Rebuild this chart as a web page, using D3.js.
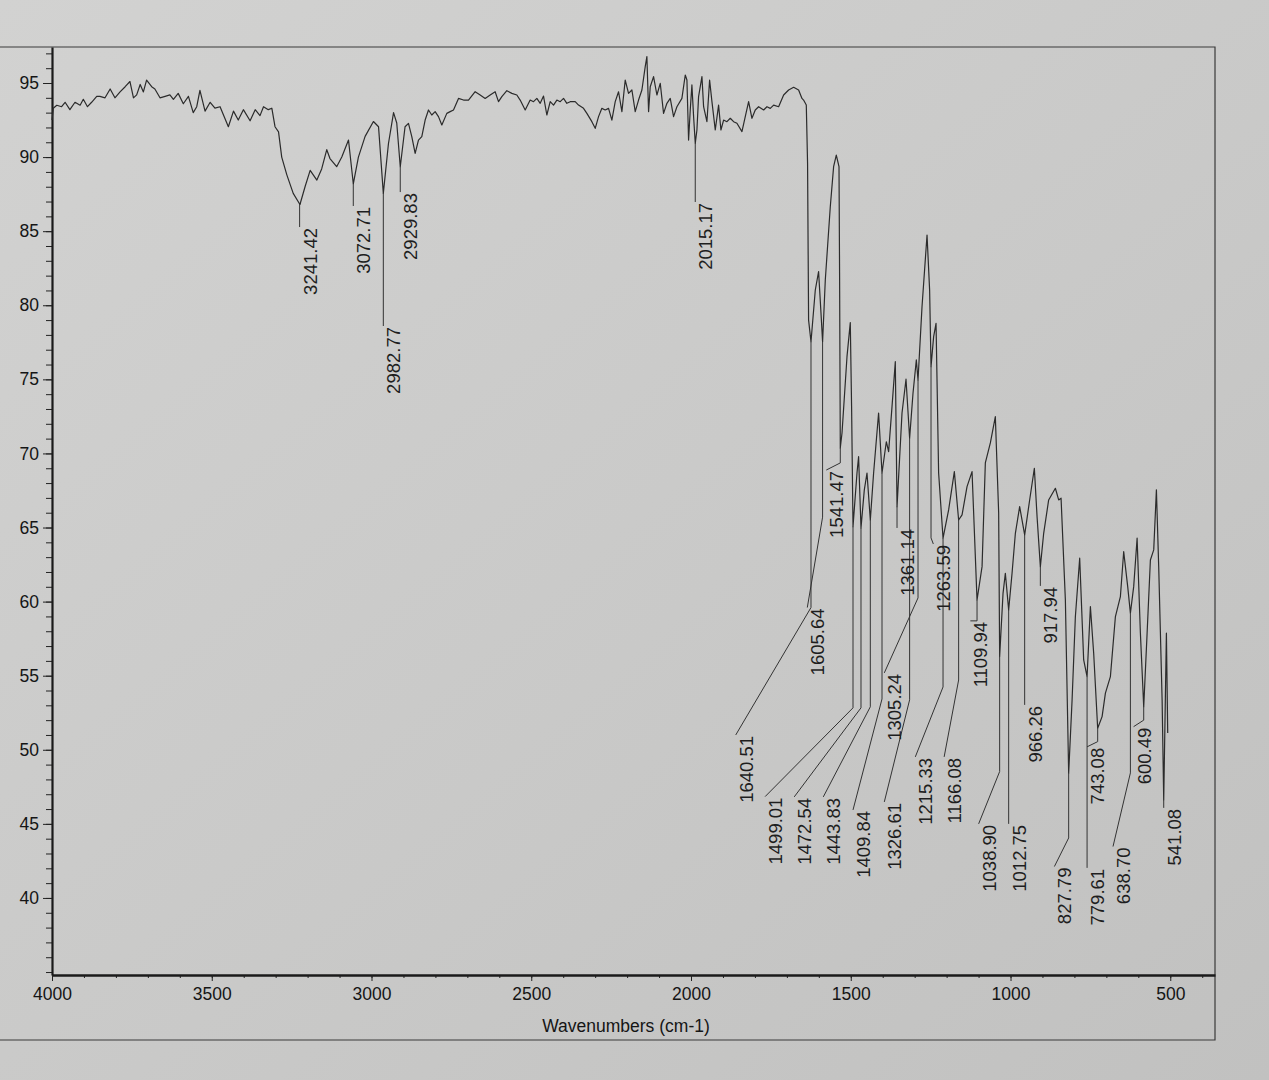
<!DOCTYPE html>
<html>
<head>
<meta charset="utf-8">
<script src="https://cdn.jsdelivr.net/npm/d3@7"></script>
<style>
  html, body { margin: 0; padding: 0; background: #c9c9c8; }
  svg { display: block; }
  text { font-family: "Liberation Sans", Arial, sans-serif; }
</style>
</head>
<body>
<div id="chart"></div>
<script>
// IR spectrum (wavenumber in cm-1, %T)
const wavenumbers = [
  4000, 3996, 3985, 3970, 3959, 3944, 3928, 3912, 3902, 3889, 3876, 3860, 3850, 3834, 3818, 3803,
  3787, 3771, 3756, 3745, 3735, 3724, 3714, 3704, 3688, 3678, 3662, 3646, 3631, 3620, 3605, 3589,
  3573, 3558, 3547, 3537, 3521, 3505, 3490, 3474, 3448, 3432, 3417, 3401, 3380, 3364, 3349, 3338,
  3323, 3312, 3302, 3291, 3281, 3265, 3245, 3224, 3208, 3192, 3171, 3156, 3140, 3130, 3109, 3093,
  3072, 3057, 3041, 3020, 2994, 2978, 2963, 2947, 2931, 2921, 2910, 2895,
  2884.3, 2873.9, 2863.4, 2853.0, 2842.6, 2832.1, 2821.7, 2811.3, 2800.8, 2790.4, 2779.9, 2764.3,
  2753.8, 2743.4, 2727.7, 2712.1, 2696.4, 2675.6, 2659.9, 2644.3, 2628.6, 2613.0, 2602.5, 2592.1,
  2576.4, 2560.8, 2545.1, 2534.7, 2519.0, 2503.4, 2492.9, 2482.5, 2472.0, 2461.6, 2451.2, 2440.7,
  2430.3, 2419.9, 2409.4, 2399.0, 2388.6, 2378.1, 2362.5, 2352.0, 2336.4, 2325.9, 2310.3, 2299.8,
  2289.4, 2279.0, 2268.5, 2258.1, 2247.7, 2237.2, 2226.8, 2216.3, 2205.9, 2195.5, 2185.0, 2174.6,
  2164.2, 2153.7, 2143.3, 2138.1, 2132.8, 2127.6, 2117.2, 2106.7, 2096.3, 2085.9, 2075.4, 2065.0,
  2054.6, 2044.1, 2028.5, 2018.0, 2012.8, 2007.6, 2002.4, 1997.2, 1991.9, 1986.7, 1981.5, 1976.3,
  1965.8, 1960.6, 1950.2, 1941.8, 1934.5, 1924.1, 1913.7, 1906.4, 1898.0, 1887.6, 1877.1, 1866.7,
  1856.3, 1840.6, 1830.2, 1819.7, 1809.3, 1798.9, 1788.4, 1772.7, 1762.3, 1751.9, 1741.4, 1725.8,
  1710.1, 1694.5, 1678.8, 1663.2, 1652.7, 1647.7, 1639.2,
  1635.2, 1632.0, 1624.5, 1611.0, 1600.7, 1593.2, 1588.2, 1579.7, 1564.1, 1553.7, 1545.3, 1536.8,
  1535.0, 1532.8, 1527.4, 1511.8, 1501.5, 1497.4, 1493.0, 1480.5, 1475.5, 1468.0, 1457.6, 1449.2,
  1438.8, 1428.5, 1412.9, 1402.2, 1388.7, 1381.5, 1370.9, 1360.6, 1355.2, 1339.6, 1327.1, 1315.8,
  1305.2, 1294.8, 1289.5, 1277.0, 1261.3, 1253.2, 1248.8, 1240.6, 1233.1, 1225.0, 1211.2, 1193.7,
  1175.8, 1162.4, 1151.7, 1136.1, 1120.4, 1104.8, 1089.1, 1078.8, 1063.1, 1047.5, 1037.1, 1034.0,
  1023.4, 1016.2, 1005.8, 995.2, 984.8, 971.4, 955.7, 940.1, 925.4, 916.9, 906.6, 896.2,
  880.6, 859.6, 849.3, 841.8, 828.3, 818.0, 807.3, 797.0, 783.5, 771.0, 760.4, 750.0,
  739.7, 727.2, 713.4, 703.0, 687.4, 671.7, 656.1, 645.8, 633.2, 624.8, 614.5, 603.8,
  593.5, 583.1, 572.5, 562.2, 551.8, 543.4, 536.2, 525.5, 520.5, 512.1, 508.0
];

const transmittance = [
  92.5, 93.3, 93.5, 93.4, 93.7, 93.2, 93.7, 93.5, 93.9, 93.4, 93.7, 94.1, 94.1, 94.0, 94.6, 94.0,
  94.4, 94.75, 95.1, 94.0, 94.2, 94.9, 94.4, 95.2, 94.75, 94.6, 94.0, 94.1, 94.2, 93.9, 94.3, 93.6,
  94.1, 93.0, 93.4, 94.5, 93.1, 93.7, 93.3, 93.4, 92.05, 93.1, 92.5, 93.2, 92.45, 93.2, 92.8, 93.4,
  93.2, 93.3, 92.05, 91.7, 90.0, 88.8, 87.55, 86.8, 88.0, 89.1, 88.45, 89.2, 90.5, 89.9, 89.35, 90.0,
  91.15, 88.2, 90.0, 91.4, 92.4, 92.05, 87.55, 90.9, 93.0, 92.3, 89.35, 92.05,
  92.28, 91.38, 90.25, 91.15, 91.38, 92.5, 93.18, 92.84, 93.07, 92.73, 92.17, 92.95,
  93.07, 93.18, 93.96, 93.85, 93.85, 94.41, 94.19, 93.96, 94.19, 94.41, 93.74, 94.08,
  94.48, 94.3, 94.19, 93.85, 93.18, 93.85, 93.74, 93.96, 93.63, 94.12, 92.84, 93.74,
  93.51, 93.85, 93.74, 93.96, 93.63, 93.74, 93.74, 93.51, 93.29, 92.95, 92.39, 91.94,
  92.73, 93.29, 93.18, 93.29, 92.5, 93.74, 94.41, 93.07, 95.2, 94.3, 94.53, 93.07,
  93.85, 94.53, 96.1, 96.78, 93.07, 94.75, 95.43, 94.19, 94.98, 92.95, 93.63, 93.96,
  92.73, 93.4, 93.96, 95.54, 95.2, 91.15, 93.18, 94.87, 92.73, 90.93, 91.83, 94.08,
  95.43, 93.4, 92.39, 95.2, 93.74, 91.83, 93.51, 91.83, 92.5, 92.39, 92.62, 92.39,
  92.28, 91.72, 92.73, 93.74, 92.62, 93.18, 93.4, 93.18, 93.4, 93.29, 93.51, 93.4,
  94.19, 94.53, 94.71, 94.53, 93.96, 93.85, 93.52,
  89.6, 79.0, 77.54, 81.03, 82.27, 79.48, 77.54, 81.71, 86.65, 89.35, 90.14, 89.35,
  82.18, 70.37, 71.38, 76.53, 78.83, 73.16, 65.06, 68.68, 69.78, 64.97, 67.54, 68.68,
  65.51, 68.68, 72.73, 68.68, 70.79, 70.12, 73.16, 76.19, 66.41, 72.73, 75.01, 71.02,
  74.06, 76.31, 74.96, 79.9, 84.74, 81.03, 75.86, 77.88, 78.78, 68.68, 64.28, 66.19,
  68.77, 65.51, 65.85, 67.76, 68.77, 60.11, 62.36, 69.36, 70.71, 72.48, 65.98, 56.29,
  60.56, 61.91, 59.44, 61.91, 64.61, 66.41, 64.5, 66.86, 69.0, 65.73, 62.36, 64.61,
  66.86, 67.65, 66.86, 66.98, 60.11, 48.42, 53.36, 58.99, 62.93, 56.06, 54.94, 59.66,
  56.52, 51.45, 52.24, 53.82, 54.94, 58.99, 60.34, 63.37, 61.01, 59.22, 61.01, 64.28,
  57.87, 52.91, 57.87, 62.81, 63.49, 67.54, 62.36, 53.36, 46.62, 57.87, 51.14
];

// peak picks printed on the chart
const peakLabels = [
  "3241.42", "3072.71", "2982.77", "2929.83", "2015.17", "1640.51", "1605.64", "1541.47",
  "1499.01", "1472.54", "1443.83", "1409.84", "1361.14", "1326.61", "1305.24", "1263.59",
  "1215.33", "1166.08", "1109.94", "1038.90", "1012.75", "966.26", "917.94", "827.79",
  "779.61", "743.08", "638.70", "600.49", "541.08"
];
// where each pick touches the trace (as it sits on the printout)
const peakWavenumbers = [
  3225, 3057, 2963, 2910, 1986.7, 1624.5, 1588.2, 1532.8,
  1493.0, 1468.0, 1438.8, 1402.2, 1355.2, 1315.8, 1289.5, 1248.8,
  1211.2, 1162.4, 1104.8, 1034.0, 1005.8, 955.7, 906.6, 818.0,
  760.4, 727.2, 624.8, 583.1, 520.5
];

const xMajorTicks = [4000, 3500, 3000, 2500, 2000, 1500, 1000, 500];
const yMajorTicks = [40, 45, 50, 55, 60, 65, 70, 75, 80, 85, 90, 95];

// leader layout for each pick: [bend %T, label wavenumber, label top %T] (null bend = straight drop)
const leaderLayout = [
  [null, 3225, 85.28], [null, 3057, 86.7], [null, 2963, 78.6], [null, 2910, 87.64],
  [null, 1986.7, 86.97], [59.6, 1860, 51.0], [65.7, 1636, 59.6], [69.36, 1576.6, 68.88],
  [52.83, 1768, 46.84], [52.83, 1677, 46.82], [52.9, 1586, 46.82], [53.43, 1493, 45.94],
  [null, 1355.2, 64.97], [53.37, 1395, 46.48], [60.25, 1395, 55.19], [64.3, 1241.6, 63.89],
  [54.24, 1298, 49.52], [54.71, 1207.7, 49.52], [null, 1125.7, 58.7], [48.53, 1099.8, 45.0],
  [null, 1005.8, 45.0], [null, 955.7, 53.03], [null, 906.6, 61.06], [44.05, 862.7, 42.12],
  [null, 760.4, 42.03], [50.55, 760.4, 50.2], [48.44, 679.2, 43.47], [52.0, 614.8, 51.56],
  [null, 520.5, 46.08]
];

const width = 1269;
const height = 1080;

const svg = d3.select("#chart")
  .append("svg")
  .attr("width", width)
  .attr("height", height);

// paper
const grad = svg.append("defs").append("linearGradient")
  .attr("id", "paper")
  .attr("x1", "0").attr("y1", "0").attr("x2", "1").attr("y2", "1");
grad.append("stop").attr("offset", "0%").attr("stop-color", "#d2d2d1");
grad.append("stop").attr("offset", "55%").attr("stop-color", "#c9c9c8");
grad.append("stop").attr("offset", "100%").attr("stop-color", "#c1c1c0");

svg.append("rect")
  .attr("width", width)
  .attr("height", height)
  .attr("fill", "url(#paper)");

const x = d3.scaleLinear()
  .domain([4000, 360])
  .range([52, 1215]);

const y = d3.scaleLinear()
  .domain([34.8, 97.43])
  .range([975, 47]);

// printout frame: top rule, right edge, bottom rule
svg.append("path")
  .attr("d", `M0,${y(97.43)}H${x(360)}V1040H0`)
  .attr("fill", "none")
  .attr("stroke", "#3a3a3a")
  .attr("stroke-width", 1.2);

// y axis
svg.append("g")
  .attr("transform", `translate(${x(4000)},0)`)
  .call(d3.axisLeft(y).tickValues(d3.range(35, 98)).tickSize(6).tickSizeOuter(0).tickFormat(""))
  .call(g => g.select(".domain").remove())
  .selectAll("line").attr("stroke", "#222");

svg.append("g")
  .attr("transform", `translate(${x(4000)},0)`)
  .call(d3.axisLeft(y).tickValues(yMajorTicks).tickSize(9).tickPadding(4).tickSizeOuter(0))
  .call(g => g.select(".domain").attr("stroke", "#1a1a1a").attr("stroke-width", 2.2))
  .call(g => g.selectAll("line").attr("stroke", "#222"))
  .call(g => g.selectAll("text").attr("font-size", "17.5px").attr("fill", "#151515")
    .attr("font-family", "Liberation Sans, Arial, sans-serif"));

// x axis
svg.append("g")
  .attr("transform", `translate(0,${y(34.8)})`)
  .call(d3.axisBottom(x).tickValues(d3.range(4000, 359, -100)).tickSize(3).tickSizeOuter(0).tickFormat(""))
  .call(g => g.select(".domain").remove())
  .selectAll("line").attr("stroke", "#222");

svg.append("g")
  .attr("transform", `translate(0,${y(34.8)})`)
  .call(d3.axisBottom(x).tickValues(xMajorTicks).tickSize(6).tickPadding(7).tickSizeOuter(0)
    .tickFormat(d3.format("d")))
  .call(g => g.select(".domain").attr("stroke", "#1a1a1a").attr("stroke-width", 2.6))
  .call(g => g.selectAll("line").attr("stroke", "#222"))
  .call(g => g.selectAll("text").attr("font-size", "17.5px").attr("fill", "#151515")
    .attr("font-family", "Liberation Sans, Arial, sans-serif"));

svg.append("text")
  .attr("x", 626)
  .attr("y", 1032)
  .attr("text-anchor", "middle")
  .attr("font-size", "17.5px")
  .attr("fill", "#151515")
  .text("Wavenumbers (cm-1)");

// spectrum
const spectrum = wavenumbers.map((w, i) => ({ wn: w, t: transmittance[i] }));

const line = d3.line()
  .x(d => x(d.wn))
  .y(d => y(d.t));

svg.append("path")
  .datum(spectrum)
  .attr("d", line)
  .attr("fill", "none")
  .attr("stroke", "#2b2b2b")
  .attr("stroke-width", 1.2)
  .attr("stroke-linejoin", "round");

// %T of the trace at a given wavenumber
const ascending = spectrum.slice().reverse();
const bisect = d3.bisector(d => d.wn).left;
function traceAt(w) {
  const i = bisect(ascending, w);
  if (i <= 0) return ascending[0].t;
  if (i >= ascending.length) return ascending[ascending.length - 1].t;
  const a = ascending[i - 1], b = ascending[i];
  return a.t + (b.t - a.t) * (w - a.wn) / (b.wn - a.wn);
}

// peak leaders and labels
const peaks = peakLabels.map((label, i) => ({
  label: label,
  wn: peakWavenumbers[i],
  bend: leaderLayout[i][0],
  labelWn: leaderLayout[i][1],
  labelT: leaderLayout[i][2]
}));

svg.append("g")
  .selectAll("path")
  .data(peaks)
  .enter()
  .append("path")
  .attr("d", d => {
    const px = x(d.wn);
    const py = y(traceAt(d.wn));
    const bend = d.bend === null ? d.labelT : d.bend;
    return `M${px},${py}V${y(bend)}L${x(d.labelWn)},${y(d.labelT)}`;
  })
  .attr("fill", "none")
  .attr("stroke", "#333")
  .attr("stroke-width", 1);

svg.append("g")
  .selectAll("text")
  .data(peaks)
  .enter()
  .append("text")
  .attr("transform", d => `translate(${x(d.labelWn) + 17},${y(d.labelT) + 1}) rotate(-90)`)
  .attr("text-anchor", "end")
  .attr("font-size", "18.5px")
  .attr("fill", "#1e1e1e")
  .text(d => d.label);
</script>
</body>
</html>
